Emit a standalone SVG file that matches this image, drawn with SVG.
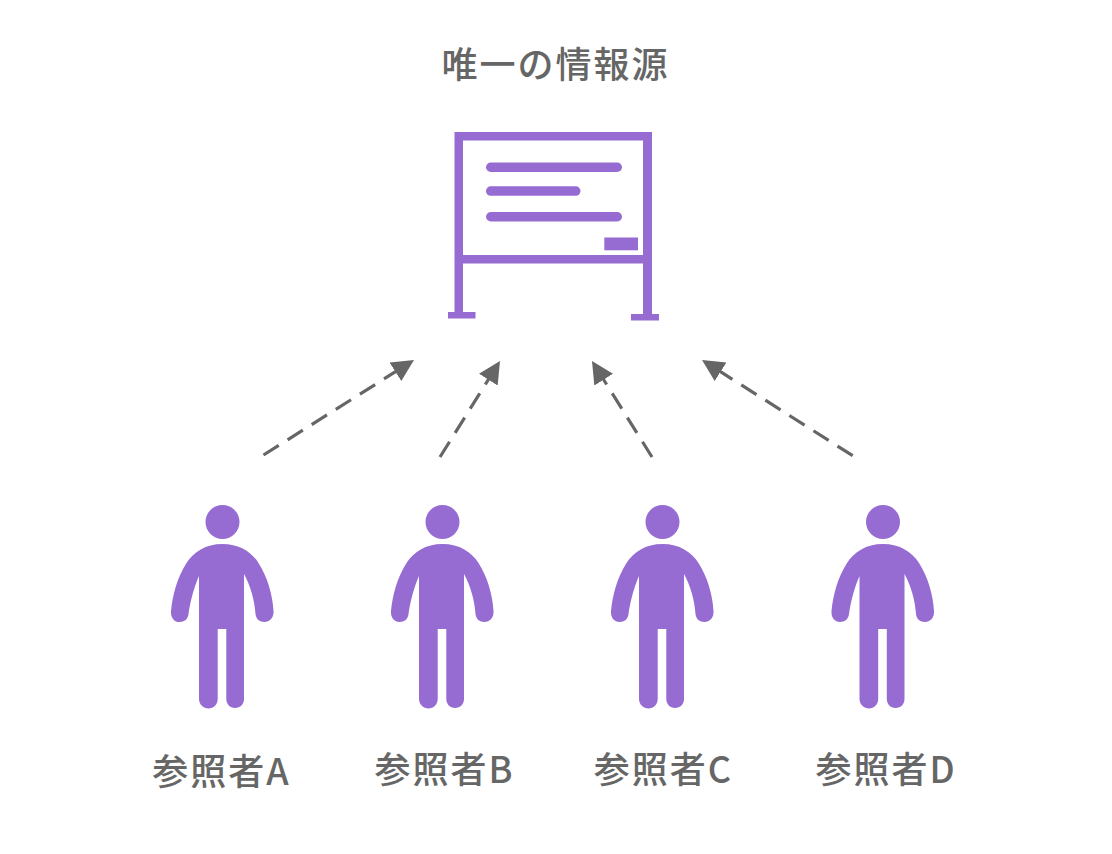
<svg xmlns="http://www.w3.org/2000/svg" width="1112" height="854" viewBox="0 0 1112 854">
<style>
.p{fill:#966cd3}
.t{fill:#666;font-family:"Noto Sans CJK JP","Noto Sans",sans-serif;font-size:36px;text-anchor:middle;font-weight:500;letter-spacing:2px}
.c{fill:none;stroke:#666;stroke-width:3.2;stroke-dasharray:18 10.5;marker-end:url(#a)}
</style>
<defs>
<marker id="a" markerUnits="userSpaceOnUse" markerWidth="24" markerHeight="24" refX="2" refY="11" orient="auto"><path d="M0 0L22 11L0 22z" fill="#666"/></marker>
<g id="person" class="p">
<circle cx="0" cy="522" r="17"/>
<path d="M0 544C17 544 29 552 36 563C45 577 50 595 51 611C51.500 618 47 622 42 622C37 622 33.500 619 33 614C32 600 28 586 21.500 574L21.500 699C21.500 704 18 708 12.500 708C7.500 708 3.800 704 3.800 699L3.800 629L-4.800 629L-4.800 699C-4.800 704.500 -9 708.500 -14 708.500C-19 708.500 -23.500 704.500 -23.500 699L-23.500 576C-28 586 -32 600 -34 614C-34.500 619 -38 622 -43 622C-48 622 -52 618 -51.500 611C-50 595 -45 577 -36 563C-29 552 -17 544 0 544Z"/>
</g>
</defs>
<rect width="1112" height="854" fill="#fff"/>
<g id="source-label"><text class="t" x="555.500" y="78">唯一の情報源</text></g>
<g id="board" class="p">
<path fill-rule="evenodd" d="M454.500 132H652V315H643V263.500H463V315H454.500ZM463 140.500V255H643V140.500Z"/>
<rect x="448" y="312" width="27.500" height="6.500"/>
<rect x="631" y="314" width="28" height="6.500"/>
<rect x="486" y="162.500" width="136" height="9.500" rx="4.750"/>
<rect x="486" y="186.300" width="94.500" height="9.500" rx="4.750"/>
<rect x="486" y="212" width="136" height="9.500" rx="4.750"/>
<rect x="604.300" y="237.500" width="33.700" height="12.800"/>
</g>
<g id="connectors">
<path class="c" d="M263.500 455L397.100 370.700"/>
<path class="c" d="M440 457L489.400 378"/>
<path class="c" d="M652 457L602.600 378"/>
<path class="c" d="M852.700 455.700L718.900 370.700"/>
</g>
<g id="person-a"><use href="#person" x="222.500"/><text class="t" x="221.500" y="785">参照者A</text></g>
<g id="person-b"><use href="#person" x="442.500"/><text class="t" x="444.500" y="783">参照者B</text></g>
<g id="person-c"><use href="#person" x="662.500"/><text class="t" x="663.500" y="783">参照者C</text></g>
<g id="person-d"><use href="#person" x="883"/><text class="t" x="886" y="783">参照者D</text></g>
</svg>
